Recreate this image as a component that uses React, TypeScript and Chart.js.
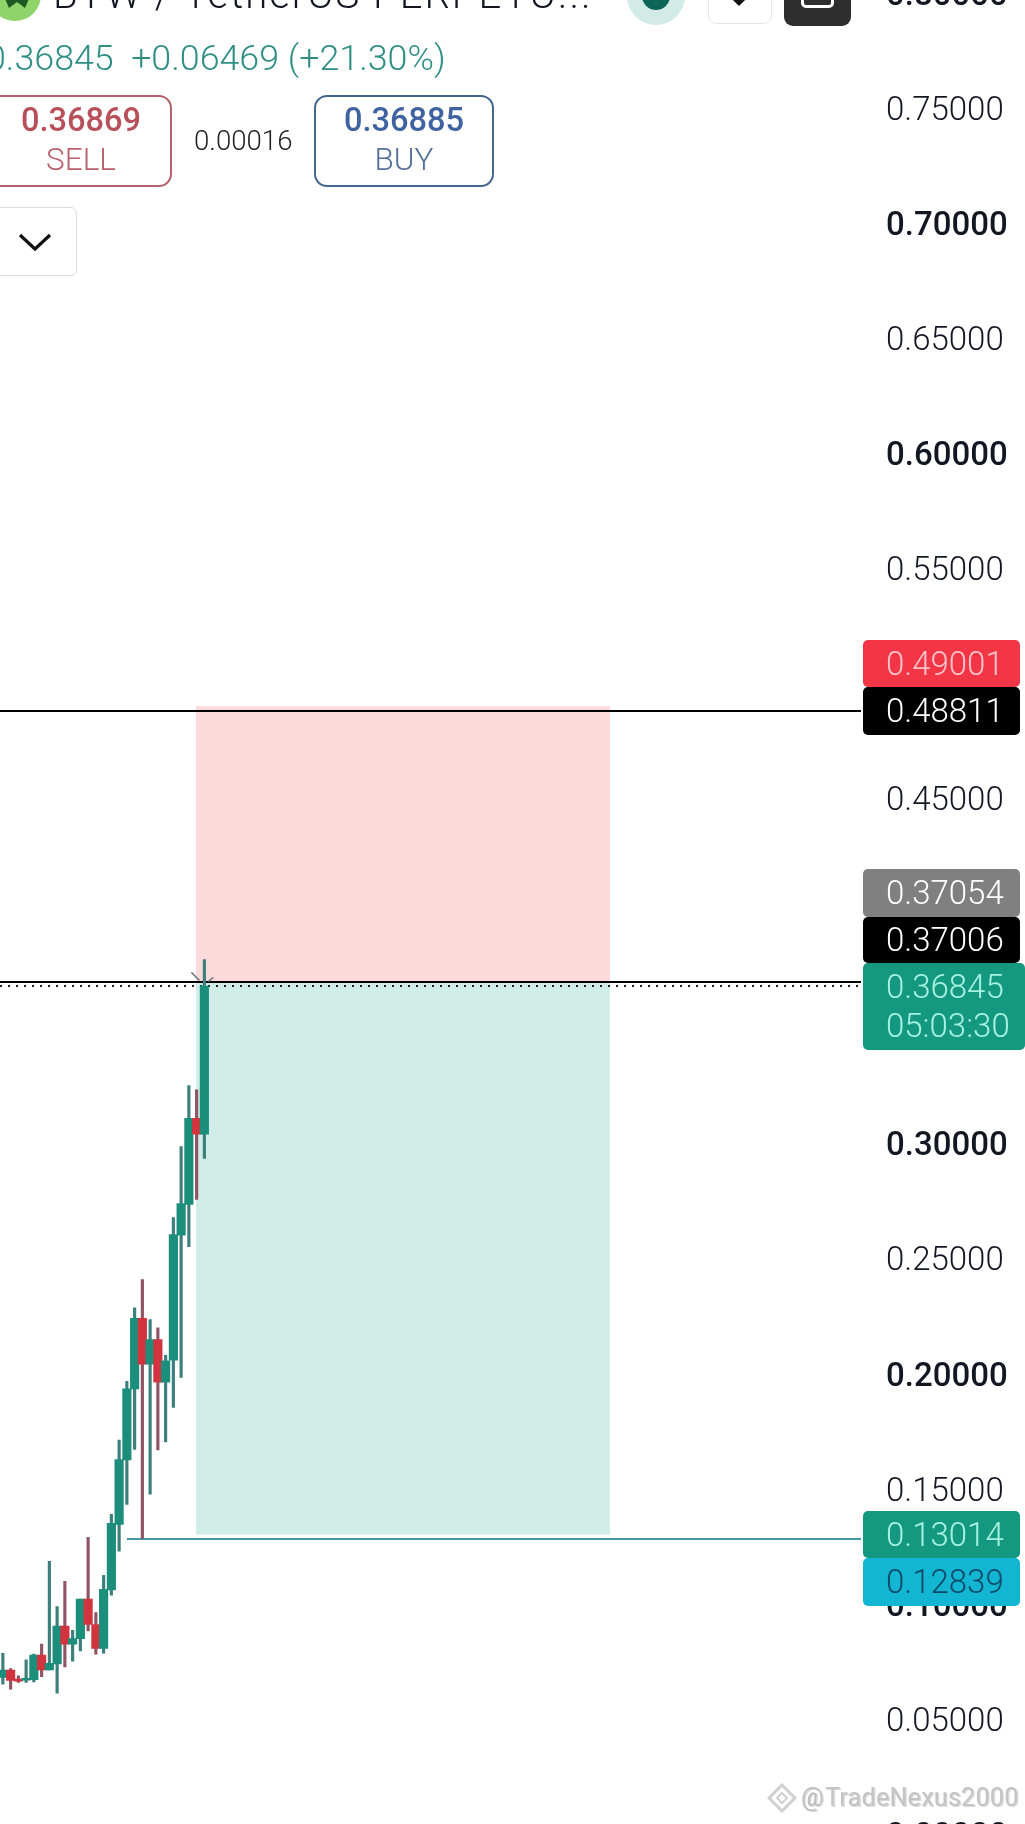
import React, { useEffect, useRef } from "react";
import { Chart, registerables } from "chart.js";

Chart.register(...registerables);

const opens = [0.0681,0.0713,0.0674,0.0669,0.0671,0.0778,0.0714,0.0740,0.0904,0.0826,0.0850,0.1021,0.0911,0.0807,0.1061,0.1346,0.1626,0.1935,0.2241,0.2042,0.2149,0.1964,0.2059,0.2602,0.2736,0.3110,0.3041];
const closes = [0.0713,0.0668,0.0665,0.0677,0.0778,0.0714,0.0742,0.0904,0.0826,0.0850,0.1021,0.0911,0.0807,0.1064,0.1351,0.1628,0.1935,0.2241,0.2042,0.2149,0.1964,0.2057,0.2605,0.2740,0.3110,0.3041,0.36845];
const highs = [0.0786,0.0720,0.0688,0.0757,0.0782,0.0826,0.1186,0.0989,0.1099,0.0886,0.1021,0.1290,0.0963,0.1125,0.1390,0.1712,0.1967,0.2287,0.2410,0.2236,0.2200,0.2080,0.2679,0.2987,0.3252,0.3234,0.3800];
const lows = [0.0652,0.0630,0.0659,0.0659,0.0662,0.0684,0.0714,0.0613,0.0727,0.0752,0.0796,0.0883,0.0782,0.0786,0.1038,0.1230,0.1433,0.1672,0.1284,0.1477,0.1669,0.1704,0.1854,0.1984,0.2553,0.2758,0.2936];

const stopPrice = 0.49001;
const entryPrice = 0.37054;
const targetPrice = 0.13014;
const upperLinePrice = 0.48811;
const midLinePrice = 0.37006;
const lastPrice = 0.36845;
const lowLinePrice = 0.12839;

const priceBadges = ["0.49001", "0.48811", "0.37054", "0.37006", "0.36845", "0.13014", "0.12839"];
const countdown = "05:03:30";

const title = "BTW / TetherUS PERPETU...";
const changeText = "0.36845  +0.06469 (+21.30%)";
const sellPrice = "0.36869";
const buyPrice = "0.36885";
const spread = "0.00016";

const GREEN = "#1c8f7c";
const RED = "#d1343f";
const FONT = "Roboto, sans-serif";

const badgeLayout = [
  { top: 640, bottom: 687, right: 1020, fill: "#f23645", text: "#f9c3ca" },
  { top: 687, bottom: 735, right: 1020, fill: "#000000", text: "#ffffff" },
  { top: 869, bottom: 917, right: 1020, fill: "#808080", text: "#ffffff" },
  { top: 917, bottom: 963, right: 1020, fill: "#000000", text: "#ffffff" },
  { top: 963, bottom: 1050, right: 1025, fill: "#14987f", text: "#a6f2e2" },
  { top: 1511, bottom: 1558, right: 1020, fill: "#14987f", text: "#a6f2e2" },
  { top: 1558, bottom: 1606, right: 1020, fill: "#12b5d2", text: "#0f4a68" },
];

const CANVAS_TOP = -30;

const overlays = {
  id: "overlays",
  beforeDatasetsDraw(chart: any) {
    const { ctx, scales } = chart;
    const x = scales.x;
    const y = scales.y;
    const left = x.getPixelForValue(24.92);
    const right = x.getPixelForValue(78.34);
    ctx.save();
    ctx.fillStyle = "#fcdadb";
    ctx.fillRect(left, y.getPixelForValue(stopPrice), right - left, y.getPixelForValue(entryPrice) - y.getPixelForValue(stopPrice));
    ctx.fillStyle = "#d1ede7";
    ctx.fillRect(left, y.getPixelForValue(entryPrice), right - left, y.getPixelForValue(targetPrice) - y.getPixelForValue(entryPrice));
    const hline = (v: number, x0: number, color: string, w: number, dash: number[]) => {
      ctx.beginPath();
      ctx.setLineDash(dash);
      ctx.strokeStyle = color;
      ctx.lineWidth = w;
      const py = Math.round(y.getPixelForValue(v));
      ctx.moveTo(x0, py);
      ctx.lineTo(861, py);
      ctx.stroke();
    };
    hline(lastPrice, 0, "#222222", 2, [2, 6]);
    hline(upperLinePrice, 0, "#000000", 2, []);
    hline(midLinePrice, 0, "#000000", 2, []);
    hline(lowLinePrice, x.getPixelForValue(16), "#3f9aa5", 2, []);
    ctx.restore();
  },
  afterDraw(chart: any) {
    const { ctx, scales } = chart;
    const ax = scales.x.getPixelForValue(26);
    const ay = scales.y.getPixelForValue(midLinePrice);
    ctx.save();
    ctx.strokeStyle = "#6f7f80";
    ctx.lineWidth = 1.5;
    ctx.beginPath();
    ctx.moveTo(ax - 13, ay - 10);
    ctx.lineTo(ax - 5, ay - 2);
    ctx.moveTo(ax + 9, ay - 5);
    ctx.lineTo(ax + 4, ay - 1);
    ctx.stroke();
    ctx.textBaseline = "middle";
    ctx.textAlign = "left";
    priceBadges.forEach((label, i) => {
      const b = badgeLayout[i];
      const top = b.top - CANVAS_TOP;
      const bottom = b.bottom - CANVAS_TOP;
      ctx.fillStyle = b.fill;
      ctx.beginPath();
      ctx.roundRect(863, top, b.right - 863, bottom - top, 5);
      ctx.fill();
      ctx.fillStyle = b.text;
      ctx.font = `300 33px ${FONT}`;
      if (label === priceBadges[4]) {
        ctx.fillText(label, 886, top + 27);
        ctx.fillText(countdown, 886, top + 66);
      } else {
        ctx.fillText(label, 886, (top + bottom) / 2 + 3);
      }
    });
    ctx.restore();
  },
};

const abs = (s: React.CSSProperties): React.CSSProperties => ({ position: "absolute", whiteSpace: "nowrap", fontFamily: FONT, ...s });

export default function App() {
  const ref = useRef<HTMLCanvasElement>(null);
  useEffect(() => {
    document.body.style.margin = "0";
    const idx = opens.map((_, i) => i);
    const chart = new Chart(ref.current as HTMLCanvasElement, {
      type: "bar",
      data: {
        datasets: [
          {
            label: "body",
            order: 1,
            grouped: false,
            barThickness: 8.5,
            minBarLength: 2,
            data: idx.map((i) => ({ x: i, y: [opens[i], closes[i]] })),
            backgroundColor: idx.map((i) => (closes[i] >= opens[i] ? GREEN : RED)),
          },
          {
            label: "wick",
            order: 2,
            grouped: false,
            barThickness: 2.5,
            data: idx.map((i) => ({ x: i, y: [lows[i], highs[i]] })),
            backgroundColor: idx.map((i) => (closes[i] >= opens[i] ? "#3c7f7c" : "#8f5564")),
          },
        ] as any,
      },
      options: {
        responsive: false,
        animation: false,
        devicePixelRatio: 1,
        layout: { padding: { top: 22.75, bottom: 18.85, left: 0, right: 0 } },
        plugins: { legend: { display: false }, tooltip: { enabled: false } },
        scales: {
          x: { type: "linear", display: false, offset: false, min: -0.37, max: 113.95, grid: { display: false } },
          y: {
            position: "right",
            min: 0,
            max: 0.8,
            border: { display: false },
            grid: { display: false, drawTicks: false },
            afterFit(scale: any) {
              scale.width = 139;
            },
            ticks: {
              stepSize: 0.05,
              autoSkip: false,
              padding: 0,
              labelOffset: 3.5,
              color: "#131722",
              callback: (v: any) => Number(v).toFixed(5),
              font: (ctx: any) => {
                const v = ctx.tick ? ctx.tick.value : 0.05;
                const tenth = Math.abs(v * 10 - Math.round(v * 10)) < 1e-6;
                return { family: FONT, size: 33, weight: tenth ? "500" : "300" } as any;
              },
            },
          },
        },
      } as any,
      plugins: [overlays],
    });
    return () => chart.destroy();
  }, []);

  return (
    <div style={{ position: "relative", width: 1025, height: 1824, overflow: "hidden", background: "#fff" }}>
      <canvas ref={ref} width={1025} height={1884} style={{ position: "absolute", left: 0, top: CANVAS_TOP, width: 1025, height: 1884 }} />

      {/* header */}
      <div style={{ position: "absolute", left: -11, top: -31, width: 52, height: 52, borderRadius: "50%", background: "#8fd46a" }} />
      <svg style={{ position: "absolute", left: 3, top: -6 }} width="28" height="16">
        <path d="M0 0 H28 L22 14 L14 8 L6 14 Z" fill="#1f5a22" />
      </svg>
      <div style={abs({ left: 53, top: -29, fontSize: 40, fontWeight: 300, color: "#131722", letterSpacing: 2 })}>{title}</div>
      <div style={{ position: "absolute", left: 627, top: -33, width: 58, height: 58, borderRadius: "50%", background: "#d3ebe6" }} />
      <div style={{ position: "absolute", left: 642, top: -18, width: 28, height: 28, borderRadius: "50%", background: "#0e6658" }} />
      <div style={{ position: "absolute", left: 708, top: -20, width: 64, height: 44, boxSizing: "border-box", border: "1.5px solid #e6e6e6", borderRadius: 8, background: "#fff" }} />
      <div style={{ position: "absolute", left: 734, top: -6, width: 10, height: 10, background: "#111", transform: "rotate(45deg)" }} />
      <div style={{ position: "absolute", left: 784, top: -20, width: 67, height: 46, borderRadius: 9, background: "#2e2e2e" }} />
      <div style={{ position: "absolute", left: 801, top: -10, width: 33, height: 18, boxSizing: "border-box", border: "3px solid #fff", borderRadius: 5 }} />

      <div style={abs({ left: -14, top: 38, fontSize: 35.8, fontWeight: 300, lineHeight: "40px", color: "#2f8f84", whiteSpace: "pre" })}>{changeText}</div>

      {/* sell / buy */}
      <div style={{ position: "absolute", left: -30, top: 95, width: 202, height: 92, boxSizing: "border-box", border: "2px solid #b5606a", borderRadius: 13 }} />
      <div style={abs({ left: 0, width: 162, textAlign: "center", top: 100, fontSize: 32.6, fontWeight: 500, lineHeight: "40px", color: "#b8505c" })}>{sellPrice}</div>
      <div style={abs({ left: 0, width: 162, textAlign: "center", top: 140, fontSize: 31.5, fontWeight: 300, lineHeight: "40px", color: "#b8606c" })}>SELL</div>
      <div style={abs({ left: 194, top: 125, fontSize: 27.6, fontWeight: 300, lineHeight: "32px", color: "#222" })}>{spread}</div>
      <div style={{ position: "absolute", left: 314, top: 95, width: 180, height: 92, boxSizing: "border-box", border: "2px solid #44678f", borderRadius: 13 }} />
      <div style={abs({ left: 314, width: 180, textAlign: "center", top: 100, fontSize: 32.6, fontWeight: 500, lineHeight: "40px", color: "#3f63a0" })}>{buyPrice}</div>
      <div style={abs({ left: 314, width: 180, textAlign: "center", top: 140, fontSize: 31.5, fontWeight: 300, lineHeight: "40px", color: "#54709a" })}>BUY</div>

      {/* dropdown */}
      <div style={{ position: "absolute", left: -20, top: 207, width: 97, height: 69, boxSizing: "border-box", border: "1.5px solid #dcdcdc", borderRadius: 6 }} />
      <svg style={{ position: "absolute", left: 18, top: 232 }} width="34" height="20">
        <path d="M2 3 L17 17 L32 3" fill="none" stroke="#111" strokeWidth="3.2" />
      </svg>

      {/* watermark */}
      <svg style={{ position: "absolute", left: 767, top: 1783 }} width="30" height="30">
        <path d="M15 2 L28 15 L15 28 L2 15 Z" fill="none" stroke="#d0d0d0" strokeWidth="3" />
        <path d="M15 10 L20 15 L15 20 L10 15 Z" fill="none" stroke="#d0d0d0" strokeWidth="2" />
      </svg>
      <div style={abs({ left: 801, top: 1782, fontSize: 25, lineHeight: "32px", color: "#bdbdbd", textShadow: "1.5px 1px 0 #d8d8d8" })}>@</div>
      <div style={abs({ left: 825, top: 1782, fontSize: 25, lineHeight: "32px", letterSpacing: 0.3, color: "#c4c4c4", textShadow: "1.5px 1px 0 #d8d8d8" })}>TradeNexus2000</div>
    </div>
  );
}
